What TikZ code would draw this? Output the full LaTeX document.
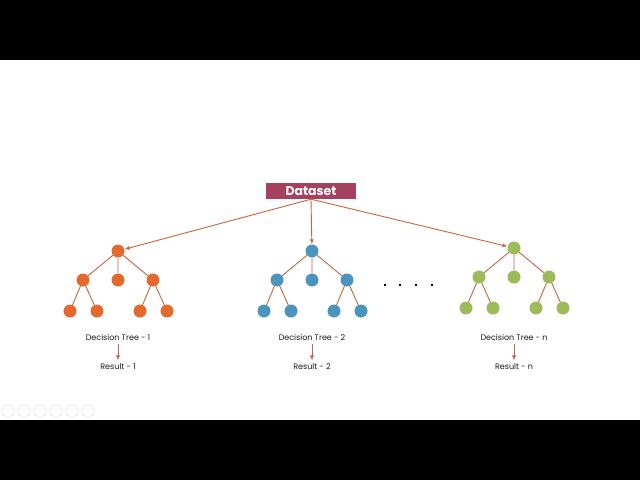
\documentclass[tikz,border=0pt]{standalone}
\usepackage{fontspec}
\setmainfont{Poppins}
\usetikzlibrary{arrows.meta,positioning}
\definecolor{wine}{HTML}{A3415F}
\definecolor{rust}{HTML}{C8643C}
\definecolor{tangerine}{HTML}{E4692E}
\definecolor{steel}{HTML}{4A94BE}
\definecolor{olive}{HTML}{9CBB5B}

\begin{document}
\begin{tikzpicture}[x=1pt,y=-1pt,every node/.style={align=center},
  dsbox/.style={fill=wine,text=white,font=\bfseries\fontsize{12.5}{14}\selectfont,minimum width=90pt,minimum height=16pt,inner sep=0pt},
  leaf/.style={circle,minimum size=13pt,inner sep=0pt},
  edge/.style={draw=rust,line width=0.9pt},
  feed/.style={draw=rust,line width=0.9pt,-{Latex[length=5pt,width=4pt]}},
  caption/.style={font=\fontsize{8}{9}\selectfont,text=black!90}]
\useasboundingbox (0,0) rectangle (640,480);
\fill[black] (0,0) rectangle (640,60);
\fill[black] (0,420) rectangle (640,480);
\node[dsbox] (ds) at (311,191) {Dataset};
% three trees
\foreach \t/\x/\y/\c/\n in {1/118/251/tangerine/1,2/312/251/steel/2,3/514/248/olive/n}{
  \node[leaf,fill=\c] (r\t) at (\x,\y) {};
  \node[leaf,fill=\c] (a\t) at (\x-35,\y+29) {};
  \node[leaf,fill=\c] (b\t) at (\x,\y+29) {};
  \node[leaf,fill=\c] (c\t) at (\x+35,\y+29) {};
  \node[leaf,fill=\c] (aa\t) at (\x-48,\y+60) {};
  \node[leaf,fill=\c] (ab\t) at (\x-21,\y+60) {};
  \node[leaf,fill=\c] (ca\t) at (\x+22,\y+60) {};
  \node[leaf,fill=\c] (cb\t) at (\x+49,\y+60) {};
  \draw[edge] (r\t)--(a\t) (r\t)--(b\t) (r\t)--(c\t);
  \draw[edge] (a\t)--(aa\t) (a\t)--(ab\t) (c\t)--(ca\t) (c\t)--(cb\t);
  \draw[feed] (ds.south)--(r\t);
  \node[caption] (dt\t) at (\x,337) {Decision Tree - \n};
  \node[caption] (res\t) at (\x,367) {Result - \n};
  \draw[feed,line width=0.7pt] (dt\t.south)--(res\t.north);
}
\foreach \d in {385,400,416,432}
  \fill (\d-1.3,285-1.3) rectangle (\d+1.3,285+1.3);
% player toolbar
\foreach \p in {8,24,40,56,72,88}
  \draw[black!10,line width=0.6pt] (\p,411) circle (6);
\end{tikzpicture}
\end{document}
